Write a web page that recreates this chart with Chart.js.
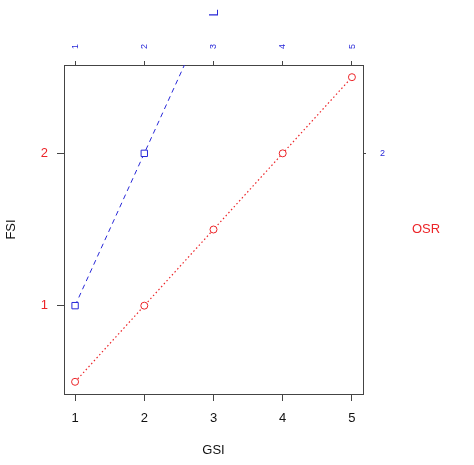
<!DOCTYPE html>
<html>
<head>
<meta charset="utf-8">
<script src="https://cdn.jsdelivr.net/npm/chart.js@4.4.0/dist/chart.umd.min.js"></script>
<style>
body { margin: 0; background: #fff; }
#wrap { width: 474px; height: 465px; }
</style>
</head>
<body>
<div id="wrap"><canvas id="plot" width="474" height="465"></canvas></div>
<script>
// red series (bottom / left axes)
const gsi = [1, 2, 3, 4, 5];
const fsi = [0.5, 1, 1.5, 2, 2.5];
// blue series (top / right axes), last point falls outside the plot
const lVals = [1, 2, 3];
const osr = [1, 2, 3];

const bottomTicks = [1, 2, 3, 4, 5];
const topTicks = [1, 2, 3, 4, 5];
const leftTicks = [1, 2];
const rightTicks = [2];

const red = "#ec2428";
const blue = "#2828d8";
const frame = "#444";
const font = '"Liberation Sans", Arial, sans-serif';

function axis(size, ticks) {
	return {
		afterFit: s => {
			if (s.isHorizontal()) s.height = size;
			else s.width = size;
		},
		afterBuildTicks: s => {
			s.ticks = ticks.map(v => ({ value: v }));
		}
	};
}

// R puts the axis titles for L and OSR unrotated / rotated the other way
const sideTitles = {
	id: "sideTitles",
	afterDraw(chart) {
		const ctx = chart.ctx;
		const a = chart.chartArea;
		ctx.save();
		ctx.font = "13px " + font;
		ctx.textAlign = "center";
		ctx.textBaseline = "middle";
		ctx.fillStyle = blue;
		ctx.translate((a.left + a.right) / 2 + 1, 13);
		ctx.rotate(-Math.PI / 2);
		ctx.fillText("L", 0, 0);
		ctx.restore();

		ctx.save();
		ctx.font = "13px " + font;
		ctx.textAlign = "center";
		ctx.textBaseline = "middle";
		ctx.fillStyle = red;
		ctx.fillText("OSR", a.right + 63, (a.top + a.bottom) / 2);
		ctx.restore();
	}
};

const ctx = document.getElementById("plot");

new Chart(ctx, {
	type: "scatter",
	data: {
		datasets: [
			{
				label: "FSI",
				data: gsi.map((x, i) => ({ x: x, y: fsi[i] })),
				xAxisID: "x",
				yAxisID: "y",
				showLine: true,
				borderColor: red,
				borderWidth: 1.2,
				borderDash: [1.5, 2.5],
				pointStyle: "circle",
				pointRadius: 3.5,
				pointBorderWidth: 1,
				pointBorderColor: red,
				pointBackgroundColor: "#fff",
				clip: 0
			},
			{
				label: "OSR",
				data: lVals.map((x, i) => ({ x: x, y: osr[i] })),
				xAxisID: "x2",
				yAxisID: "y2",
				showLine: true,
				borderColor: blue,
				borderWidth: 1,
				borderDash: [5, 4],
				pointStyle: "rect",
				pointRadius: 4.5,
				pointBorderWidth: 1,
				pointBorderColor: blue,
				pointBackgroundColor: "#fff",
				clip: 0
			}
		]
	},
	options: {
		responsive: false,
		animation: false,
		layout: { padding: 0 },
		plugins: {
			legend: { display: false },
			tooltip: { enabled: false }
		},
		scales: {
			x: {
				type: "linear",
				position: "bottom",
				min: 0.84,
				max: 5.16,
				...axis(71, bottomTicks),
				border: { display: true, color: frame, width: 1 },
				grid: { drawOnChartArea: false, drawTicks: true, tickLength: 7, color: frame },
				ticks: { autoSkip: false, maxRotation: 0, padding: 10, color: "#111", font: { family: font, size: 13 } },
				title: { display: true, text: "GSI", color: "#111", font: { family: font, size: 13 }, padding: { top: 0, bottom: 7 } }
			},
			x2: {
				type: "linear",
				position: "top",
				min: 0.84,
				max: 5.16,
				...axis(65, topTicks),
				border: { display: true, color: frame, width: 1 },
				grid: { drawOnChartArea: false, drawTicks: true, tickLength: 4, color: frame },
				ticks: { autoSkip: false, minRotation: 90, maxRotation: 90, padding: 12, labelOffset: 11, color: blue, font: { family: font, size: 9 } }
			},
			y: {
				type: "linear",
				position: "left",
				min: 0.42,
				max: 2.58,
				...axis(64, leftTicks),
				border: { display: true, color: frame, width: 1 },
				grid: { drawOnChartArea: false, drawTicks: true, tickLength: 7, color: frame },
				ticks: { autoSkip: false, padding: 9, color: red, font: { family: font, size: 13 } },
				title: { display: true, text: "FSI", color: "#111", font: { family: font, size: 13 }, padding: { top: 4, bottom: 0 } }
			},
			y2: {
				type: "linear",
				position: "right",
				min: 0.42,
				max: 2.58,
				...axis(111, rightTicks),
				border: { display: true, color: frame, width: 1 },
				grid: { drawOnChartArea: false, drawTicks: true, tickLength: 3, color: frame },
				ticks: { autoSkip: false, padding: 14, color: blue, font: { family: font, size: 9 } }
			}
		}
	},
	plugins: [sideTitles]
});
</script>
</body>
</html>
